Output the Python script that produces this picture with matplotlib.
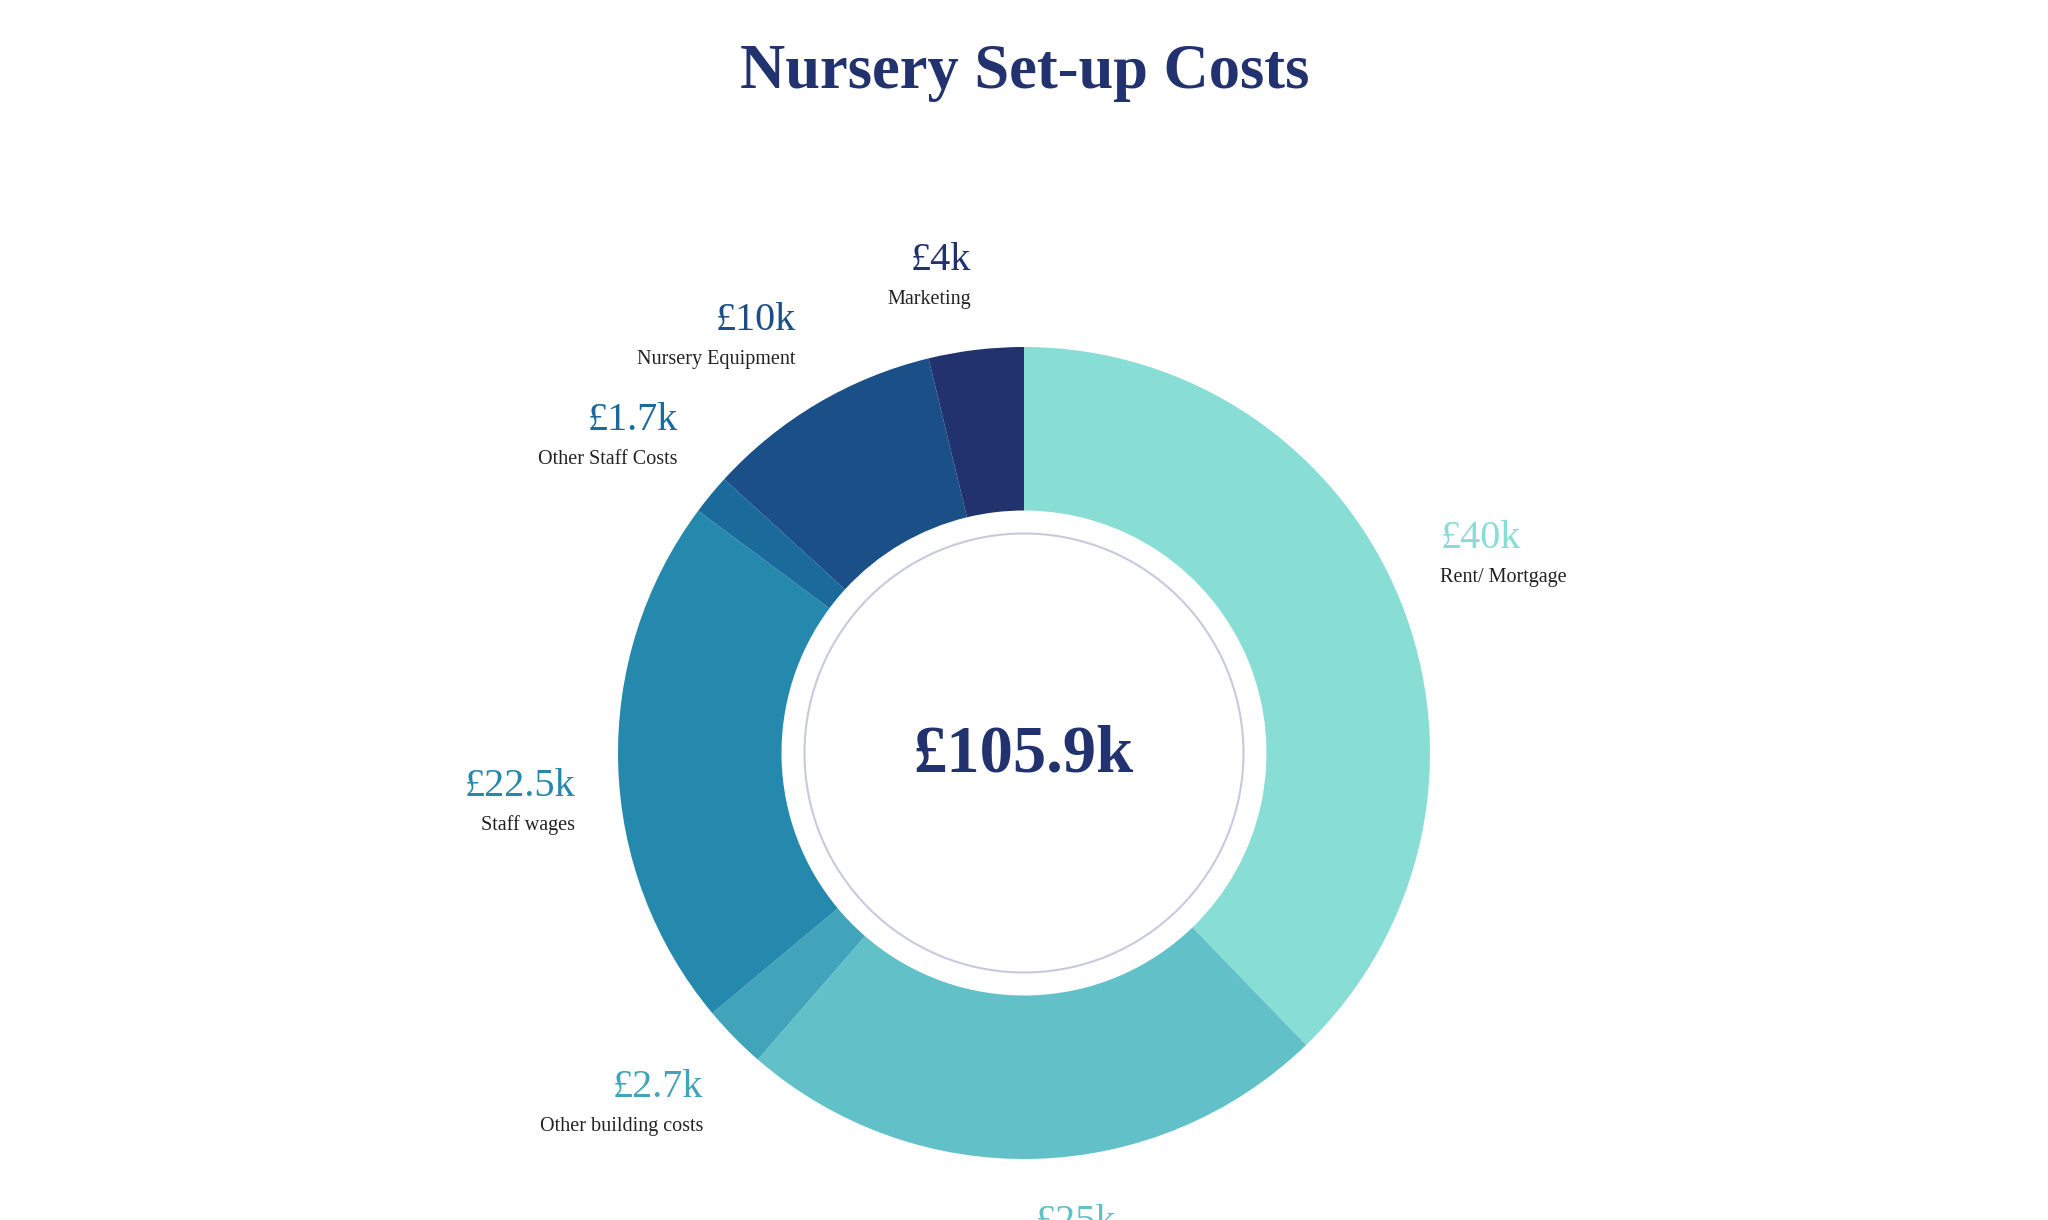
import numpy as np
import matplotlib
matplotlib.use("Agg")
import matplotlib.pyplot as plt

plt.rcParams["font.family"] = ["Liberation Serif", "DejaVu Serif"]

TITLE = "Nursery Set-up Costs"
CATEGORIES = [
    "Rent/ Mortgage",
    "Refurbishment",
    "Other building costs",
    "Staff wages",
    "Other Staff Costs",
    "Nursery Equipment",
    "Marketing",
]
VALUES = [40.0, 25.0, 2.7, 22.5, 1.7, 10.0, 4.0]
VALUE_LABELS = ["£40k", "£25k", "£2.7k", "£22.5k", "£1.7k", "£10k", "£4k"]
COLORS = ["#88ddd4", "#62c1c8", "#42a4bb", "#2589ae", "#1a6b9b", "#1b4f87", "#22326e"]
TOTAL_LABEL = "£105.9k"

NAVY = "#22326e"

# geometry in pixels (figure is 2048 x 1220, donut centre at 1024, 753)
W, H = 2048, 1220
CX, CY = 1024, 753
R_OUTER = 406
R_INNER = 242.5
R_RING = 219.5
R_LABEL = 449


def main():
    fig = plt.figure(figsize=(W / 100, H / 100), dpi=100)
    ax = fig.add_axes([0, 0, 1, 1])

    ax.pie(
        VALUES,
        radius=R_OUTER,
        startangle=90,
        counterclock=False,
        colors=COLORS,
        wedgeprops=dict(width=R_OUTER - R_INNER, linewidth=0),
    )

    ax.add_patch(plt.Circle((0, 0), R_RING, fill=False, ec="#c9c9dd", lw=1.5))

    ax.text(0, -18, TOTAL_LABEL, ha="center", va="baseline",
            fontsize=48, fontweight="bold", color=NAVY)

    ax.text(0.5, CY - 88, TITLE, ha="center", va="baseline",
            fontsize=45, fontweight="bold", color=NAVY)

    total = sum(VALUES)
    cum = np.cumsum([0] + VALUES[:-1])
    for name, val, start, lab, col in zip(CATEGORIES, VALUES, cum, VALUE_LABELS, COLORS):
        theta = np.deg2rad((start + val / 2) / total * 360)
        ax_x = R_LABEL * np.sin(theta)
        ax_y = R_LABEL * np.cos(theta)
        ha = "left" if np.sin(theta) >= 0 else "right"
        # labels in the top half sit above the anchor, bottom half below it
        if np.cos(theta) >= 0:
            y_val, y_name = ax_y + 37, ax_y + 3
        else:
            y_val, y_name = ax_y - 30, ax_y - 64
        ax.text(ax_x, y_val, lab, ha=ha, va="baseline", fontsize=29, color=col)
        ax.text(ax_x, y_name, name, ha=ha, va="baseline", fontsize=14.5, color="#222222")

    ax.set_xlim(-CX, W - CX)
    ax.set_ylim(-(H - CY), CY)
    ax.set_aspect("equal")
    ax.axis("off")

    fig.savefig("out.png", dpi=100)
    plt.close(fig)


if __name__ == "__main__":
    main()
